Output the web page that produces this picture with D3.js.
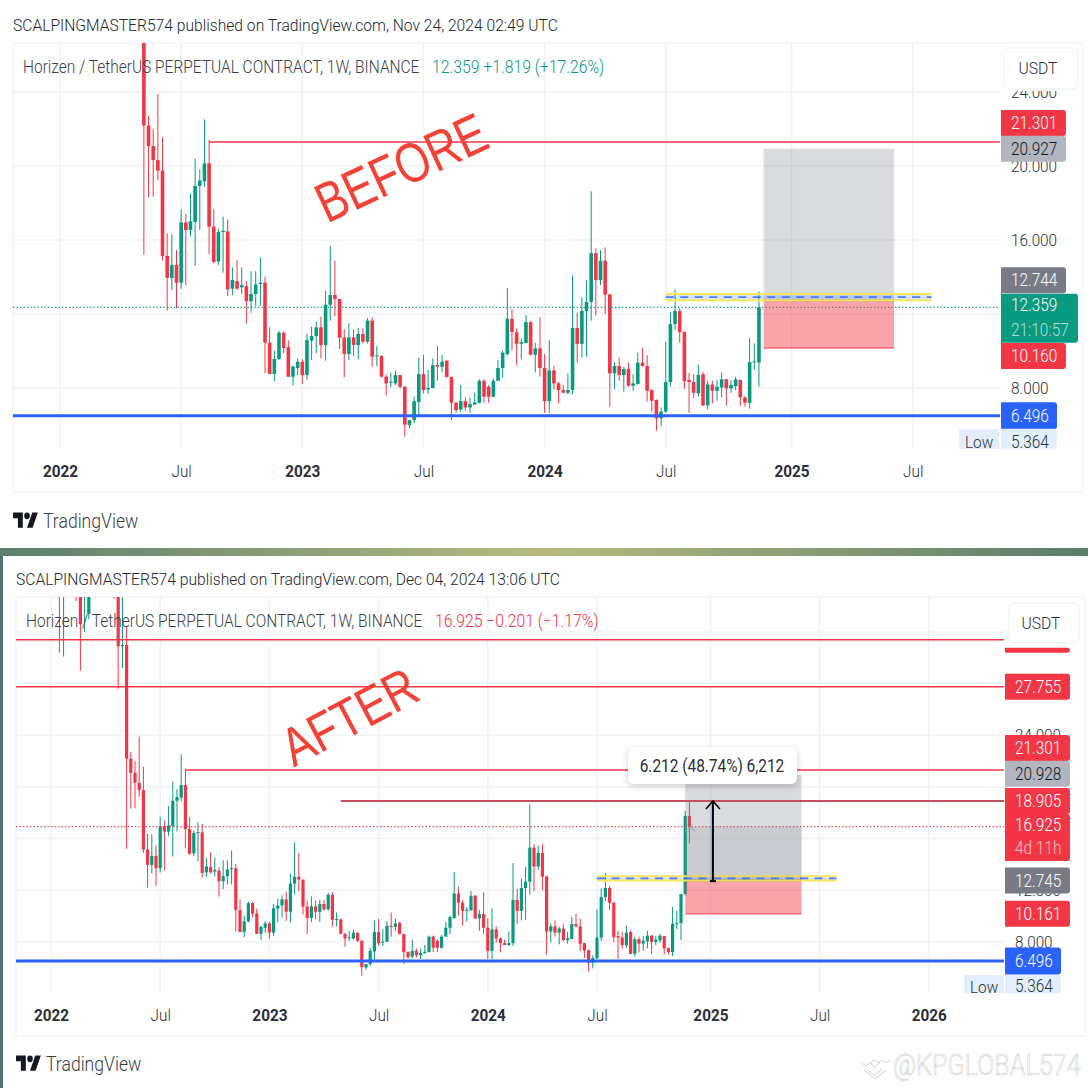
<!DOCTYPE html>
<html>
<head>
<meta charset="utf-8">
<script src="https://cdn.jsdelivr.net/npm/d3@7"></script>
<style>
  html, body { margin: 0; background: #fff; }
  svg { display: block; }
  text { font-family: Roboto, sans-serif; }
</style>
</head>
<body>
<svg id="chart" width="1088" height="1088"></svg>
<script>
// weekly candles shared by both snapshots, week 0 = first week of 2022
const opens = [
  46, 44, 43, 38, 41, 39, 38, 36, 35.2, 33.4,
  38, 40, 39, 41, 38, 37, 36, 30.9, 31, 22.18,
  21.08, 20.32, 19.75, 15.14, 13.95, 14.65, 13.69, 16.95, 16.54, 16.97,
  18.92, 19.17, 20.14, 16.72, 14.84, 16.43, 16.47, 13.37, 13.78, 13.44,
  13.51, 12.69, 13.08, 13.62, 13.69, 10.45, 8.76, 9.57, 10.99, 10.2,
  8.61, 9.08, 9.42, 8.7, 10.56, 10.81, 11.28, 10.32, 12.5, 13.03,
  12.81, 10.72, 9.84, 10.74, 10.32, 10.92, 10.5, 11.64, 9.73, 9.73,
  8.61, 8.29, 8.25, 8.7, 8.07, 6, 6.27, 7.25, 8.75, 7.92,
  8, 9.24, 9.15, 9.47, 8.59, 7.2, 6.84, 7.29, 6.95, 7.11,
  7.2, 8.39, 8.07, 7.53, 8.39, 9.08, 9.83, 11.74, 11.02, 10.39,
  10.43, 11.56, 9.8, 10.14, 9.08, 7.29, 8.95, 8.25, 7.89, 7.74,
  7.89, 11.24, 10.39, 12.16, 12.65, 15.29, 13.83, 14.88, 13.06, 8.79,
  9.19, 8.7, 9.02, 8.12, 8.21, 9.37, 9.19, 7.89, 7.35, 6.36,
  6.72, 8.32, 11.46, 12.16, 11.02, 8.43, 8.32, 7.71, 8.75, 7.06,
  8.19, 7.85, 8.03, 8.47, 7.98, 8.1, 8.43, 7.49, 7.2, 9.4,
];
const highs = [
  50, 47, 46, 44, 44, 42, 41, 39, 39, 41,
  42, 44, 44, 43, 40, 39, 38, 36, 32.4, 22.7,
  21.98, 23.89, 21.55, 16.36, 16.32, 15.46, 17.66, 17.41, 18.52, 20.4,
  19.82, 22.52, 21.41, 17.66, 16.61, 17.26, 17.12, 14.52, 14.92, 14.52,
  13.77, 14.31, 14.31, 15.06, 14.02, 11.28, 10.02, 11.1, 11.06, 10.56,
  9.24, 9.6, 9.55, 10.92, 11.32, 11.59, 11.86, 13.26, 15.68, 14.88,
  12.81, 11.17, 11.5, 11.17, 11.23, 11.23, 11.78, 11.82, 10.27, 9.78,
  8.7, 8.83, 8.93, 8.7, 8.11, 6.27, 7.53, 9.65, 9.78, 8.97,
  9.6, 10.27, 9.78, 9.51, 8.61, 7.26, 8.16, 7.47, 7.47, 7.74,
  8.47, 8.47, 8.16, 8.52, 9.51, 10.02, 13.4, 12.28, 11.22, 10.68,
  11.94, 11.62, 10.45, 11.82, 9.83, 10.59, 9.19, 8.32, 8.16, 8.79,
  14.09, 12.07, 12.9, 13.8, 18.63, 15.55, 15.46, 15.6, 13.08, 9.42,
  9.65, 9.15, 9.37, 8.75, 9.91, 10.16, 9.78, 7.92, 7.38, 6.95,
  10.5, 12.12, 13.33, 12.3, 11.06, 8.82, 8.75, 9.26, 8.88, 8.39,
  8.39, 8.43, 8.84, 8.5, 8.43, 8.61, 8.47, 7.56, 10.7, 10.41,
];
const lows = [
  42, 40, 30.4, 30.1, 36, 35.5, 34.4, 29, 32, 33,
  36, 37, 37, 36, 35.2, 34.6, 27.6, 29.2, 15.2, 18.31,
  18.34, 19.24, 14.88, 12.18, 13.3, 12.31, 13.37, 13.55, 16.18, 14.6,
  16.54, 18.88, 15.24, 14.74, 14.65, 14.23, 12.97, 13.01, 13.3, 13.06,
  11.5, 12.07, 12.43, 12.43, 8.79, 8.76, 8.36, 9.51, 9.87, 8.61,
  8.14, 8.7, 8.22, 8.43, 9.51, 9.87, 9.6, 9.48, 11.64, 11.89,
  10.11, 8.58, 9.51, 9.73, 9.55, 10.41, 10.41, 9.15, 9.19, 8.58,
  7.6, 8.04, 8.16, 7.98, 5.364, 5.82, 6.09, 6.45, 7.71, 7.67,
  7.98, 8.39, 8.84, 8.57, 6.27, 6.66, 6.7, 6.77, 6.66, 7.08,
  7.17, 7.2, 7.2, 7.49, 8.57, 8.57, 9.78, 10.05, 9.24, 9.56,
  10.41, 9.76, 8.84, 8.61, 6.66, 6.66, 7.92, 7.17, 7.74, 7.67,
  7.67, 9.37, 9.65, 9.69, 11.64, 11.91, 13.56, 11.99, 6.99, 7.94,
  8.39, 7.8, 8.07, 7.85, 8.19, 9.15, 7.26, 6.72, 5.69, 5.94,
  6.66, 8.07, 11.13, 10.45, 7.96, 6.66, 7.47, 7.53, 7.02, 6.84,
  7.17, 7.31, 7.49, 7.06, 7.74, 7.89, 7.02, 6.99, 6.88, 8.97,
];
const closes = [
  44, 43, 38, 41, 39, 38, 36, 32.6, 37, 38,
  40, 39, 41, 38, 37, 36, 30.9, 31, 22.18, 21.08,
  20.32, 19.75, 15.14, 13.95, 14.65, 13.69, 16.95, 16.54, 17.01, 18.92,
  19.21, 20.14, 16.72, 14.81, 16.43, 16.49, 13.33, 13.84, 13.37, 13.57,
  12.69, 13.08, 13.59, 13.69, 10.45, 8.76, 9.57, 10.99, 10.16, 8.61,
  9.15, 9.42, 8.7, 10.59, 10.81, 11.28, 10.32, 12.5, 13.03, 12.81,
  10.72, 9.84, 10.74, 10.32, 10.92, 10.5, 11.64, 9.69, 9.76, 8.61,
  8.25, 8.34, 8.7, 8.07, 6.02, 6.27, 7.29, 8.75, 7.89, 8,
  9.24, 9.15, 9.42, 8.59, 7.2, 6.81, 7.29, 6.95, 7.13, 7.22,
  8.39, 7.53, 7.53, 8.39, 9.08, 9.91, 11.74, 11.02, 10.39, 10.48,
  11.56, 9.8, 10.14, 9.08, 7.29, 8.95, 8.25, 7.89, 7.74, 7.89,
  11.24, 10.39, 12.16, 12.65, 15.29, 13.83, 14.88, 13.04, 8.79, 9.19,
  8.7, 9.02, 8.12, 8.25, 9.37, 9.19, 7.85, 7.31, 6.36, 6.72,
  8.32, 11.46, 12.16, 11.02, 8.37, 8.32, 7.74, 8.7, 7.06, 8.19,
  7.85, 8.07, 8.47, 7.98, 8.16, 8.47, 7.49, 7.2, 9.4, 9.44,
];
// last bars differ between the two snapshots: [open, high, low, close]
const barsBefore = [[9.38, 13.22, 8.07, 12.359]];
const barsAfter = [[9.44, 11.7, 8.13, 11.7], [11.7, 18.12, 11.6, 17.75], [17.75, 18.905, 15.62, 16.925]];

const timeTicks = [0, 26, 52, 78, 104, 130, 157, 183, 209];
const timeLabels = ['2022', 'Jul', '2023', 'Jul', '2024', 'Jul', '2025', 'Jul', '2026'];
const priceTicksBefore = [8, 12, 16, 20, 24];
const priceTicksAfter = [8, 12, 16, 20, 24, 28, 32];
// ticks whose text is not fully hidden behind a price tag
const priceLabelsBefore = [8, 16, 20, 24];
const priceLabelsAfter = [8, 12, 24];

const GREEN = '#089981';
const RED = '#f23645';
const BLUE = '#2962ff';
const GRID = '#f1f2f5';
const TEXT = '#2a2e39';
const NARROW = 0.9;

const svg = d3.select('#chart');
const defs = svg.append('defs');

function fit(sel, k = NARROW) {
  sel.each(function () {
    this.setAttribute('textLength', this.getComputedTextLength() * k);
    this.setAttribute('lengthAdjust', 'spacingAndGlyphs');
  });
  return sel;
}

function label(g, str, x, y, size, fill, extra) {
  const { anchor = 'start', weight = 300, k = NARROW } = extra || {};
  return fit(g.append('text')
    .attr('x', x)
    .attr('y', y)
    .attr('dy', '0.35em')
    .attr('text-anchor', anchor)
    .attr('font-size', size)
    .attr('font-weight', weight)
    .attr('fill', fill)
    .text(str), k);
}

function drawPane(opt) {
  const { id, left, right, top, bottom, outerRight, outerBottom, x, y, bars, priceTicks, priceLabels, tickCount, bodyWidth } = opt;
  const g = svg.append('g').attr('id', id);

  g.append('rect')
    .attr('x', left).attr('y', top)
    .attr('width', outerRight - left).attr('height', outerBottom - top)
    .attr('fill', '#fff')
    .attr('stroke', '#eef0f4');

  defs.append('clipPath').attr('id', `clip-${id}`).append('rect')
    .attr('x', left).attr('y', top)
    .attr('width', right - left).attr('height', bottom - top);

  const pane = g.append('g').attr('clip-path', `url(#clip-${id})`);

  // grid
  pane.selectAll('line.vgrid').data(timeTicks.slice(0, tickCount)).enter().append('line')
    .attr('x1', (d) => x(d)).attr('x2', (d) => x(d))
    .attr('y1', top).attr('y2', bottom)
    .attr('stroke', GRID).attr('stroke-width', 1.5);
  pane.selectAll('line.hgrid').data(priceTicks).enter().append('line')
    .attr('x1', left).attr('x2', right)
    .attr('y1', (d) => y(d)).attr('y2', (d) => y(d))
    .attr('stroke', GRID).attr('stroke-width', 1.5);

  // candles
  const color = (d) => (d.close >= d.open ? GREEN : RED);
  const candle = pane.selectAll('g.candle').data(bars).enter().append('g');
  candle.append('line')
    .attr('x1', (d) => x(d.week)).attr('x2', (d) => x(d.week))
    .attr('y1', (d) => y(d.high)).attr('y2', (d) => y(d.low))
    .attr('stroke', color).attr('stroke-width', 1);
  candle.append('rect')
    .attr('x', (d) => x(d.week) - bodyWidth / 2)
    .attr('width', bodyWidth)
    .attr('y', (d) => y(Math.max(d.open, d.close)))
    .attr('height', (d) => Math.max(1, Math.abs(y(d.open) - y(d.close))))
    .attr('fill', color);

  // price and time axes
  const yAxis = g.append('g')
    .attr('transform', `translate(${right},0)`)
    .call(d3.axisRight(y).tickValues(priceLabels).tickSize(0).tickPadding(11).tickFormat(d3.format('.3f')));
  yAxis.select('.domain').remove();
  yAxis.selectAll('text').attr('font-size', 17).attr('font-family', 'Roboto').attr('font-weight', 300).attr('fill', TEXT);
  fit(yAxis.selectAll('text'));

  const xAxis = g.append('g')
    .attr('transform', `translate(0,${outerBottom - 20.5})`)
    .call(d3.axisBottom(x)
      .tickValues(timeTicks.slice(0, tickCount))
      .tickSize(0)
      .tickFormat((d) => timeLabels[timeTicks.indexOf(d)]));
  xAxis.select('.domain').remove();
  xAxis.selectAll('text')
    .attr('font-size', 17)
    .attr('font-family', 'Roboto')
    .attr('fill', TEXT)
    .attr('dy', '0.35em')
    .attr('y', 0)
    .attr('font-weight', (d) => (timeLabels[timeTicks.indexOf(d)] === 'Jul' ? 300 : 700));
  fit(xAxis.selectAll('text'));

  return { g, pane };
}

function hLine(pane, x, y, price, from, to, stroke, width) {
  pane.append('line')
    .attr('x1', x(from)).attr('x2', x(to))
    .attr('y1', y(price)).attr('y2', y(price))
    .attr('stroke', stroke).attr('stroke-width', width);
}

function zone(pane, x, y, from, to, hi, lo, fill, op) {
  pane.append('rect')
    .attr('x', x(from)).attr('width', x(to) - x(from))
    .attr('y', y(hi)).attr('height', y(lo) - y(hi))
    .attr('fill', fill).attr('fill-opacity', op);
}

// long position tool plus the yellow entry band
function drawings(pane, x, y, levels) {
  const { target, entry, stop, from, to, bandFrom, bandTo, bandHi, bandLo, bandMid } = levels;
  zone(pane, x, y, from, to, target, entry, '#787b86', 0.27);
  zone(pane, x, y, from, to, entry, stop, RED, 0.45);
  hLine(pane, x, y, entry, from, to, '#787b86', 2);
  hLine(pane, x, y, stop, from, to, RED, 1);
  pane.append('rect')
    .attr('x', x(bandFrom)).attr('width', x(bandTo) - x(bandFrom))
    .attr('y', y(bandHi)).attr('height', y(bandLo) - y(bandHi))
    .attr('fill', BLUE).attr('fill-opacity', 0.18);
  hLine(pane, x, y, bandHi, bandFrom, bandTo, '#fbe75a', 2);
  hLine(pane, x, y, bandLo, bandFrom, bandTo, '#fbe75a', 2);
  pane.append('line')
    .attr('x1', x(bandFrom)).attr('x2', x(bandTo))
    .attr('y1', y(bandMid)).attr('y2', y(bandMid))
    .attr('stroke', BLUE).attr('stroke-width', 1.6)
    .attr('stroke-opacity', 0.8)
    .attr('stroke-dasharray', '8 6.5');
}

function priceTag(g, y, paneRight, opt) {
  const { price, lines = [], fill, color = '#fff', w = 65, h = 26, dy = 0, textDy = 0 } = opt;
  const cy = y(price) + dy;
  g.append('path')
    .attr('d', `M${paneRight + 1},${cy - h / 2}h${w - 3}a3,3 0 0 1 3,3v${h - 6}a3,3 0 0 1 -3,3h${-(w - 3)}z`)
    .attr('fill', fill);
  lines.forEach((str, n) => {
    const ly = lines.length > 1 ? cy - h / 4 + (n * h) / 2 - 1 : cy;
    label(g, str, paneRight + 11, ly + textDy, 17.5, n ? 'rgba(255,255,255,0.7)' : color, { k: 0.88 });
  });
}

function usdtButton(g, x, yTop, w, h) {
  g.append('rect')
    .attr('x', x - 2).attr('y', yTop - 2).attr('width', w + 4).attr('height', h + 4)
    .attr('fill', '#fff');
  g.append('rect')
    .attr('x', x).attr('y', yTop).attr('width', w).attr('height', h)
    .attr('rx', 6)
    .attr('fill', '#fff').attr('stroke', '#eceef2');
  label(g, 'USDT', x + w / 2 - 3, yTop + h / 2, 17, TEXT, { anchor: 'middle', k: 0.92 });
}

function logo(cx, cy) {
  const g = svg.append('g').attr('transform', `translate(${cx},${cy}) scale(0.7,0.85)`);
  g.append('path').attr('d', 'M14 22H7V11H0V4h14v18zM28 22h-8l7.5-18h8L28 22z').attr('fill', '#131722');
  g.append('circle').attr('cx', 20).attr('cy', 8).attr('r', 4).attr('fill', '#131722');
}

function rotated(str, cx, cy, angle, size, width) {
  svg.append('text')
    .attr('transform', `translate(${cx},${cy}) rotate(${angle})`)
    .attr('text-anchor', 'middle')
    .attr('dy', '0.36em')
    .attr('font-size', size)
    .style('font-family', '"Liberation Sans", sans-serif')
    .attr('textLength', width)
    .attr('lengthAdjust', 'spacingAndGlyphs')
    .attr('fill', '#f44336')
    .text(str);
}

const toBars = (extra) => opens.map((o, i) => ({ week: i, open: o, high: highs[i], low: lows[i], close: closes[i] }))
  .concat(extra.map((b, n) => ({ week: opens.length + n, open: b[0], high: b[1], low: b[2], close: b[3] })));

// separator band and left strip of the collage
const bandGrad = defs.append('linearGradient').attr('id', 'band');
[['0%', '#5c7f70'], ['50%', '#b6bb7d'], ['100%', '#5a7c6c']].forEach((s) => {
  bandGrad.append('stop').attr('offset', s[0]).attr('stop-color', s[1]);
});
svg.append('rect').attr('x', 0).attr('y', 548).attr('width', 1088).attr('height', 8).attr('fill', 'url(#band)');
svg.append('rect').attr('x', 0).attr('y', 556).attr('width', 3).attr('height', 532).attr('fill', '#4f7470');

// ---- BEFORE ----
const x1 = d3.scaleLinear().domain([0, 104]).range([60, 544.6]);
const y1 = d3.scaleLinear().domain([8, 20]).range([388, 166]);
label(svg, 'SCALPINGMASTER574 published on TradingView.com, Nov 24, 2024 02:49 UTC', 13, 25, 17, '#24272f', { k: 0.92 });
const before = drawPane({
  id: 'before', left: 13, right: 1000, top: 43, bottom: 449, outerRight: 1083, outerBottom: 492,
  x: x1, y: y1, bars: toBars(barsBefore), priceTicks: priceTicksBefore, priceLabels: priceLabelsBefore, tickCount: 8, bodyWidth: 3.6,
});
hLine(before.pane, x1, y1, 21.301, 32, 230, RED, 1.5);
before.pane.append('line')
  .attr('x1', 13).attr('x2', 1000)
  .attr('y1', y1(12.359)).attr('y2', y1(12.359))
  .attr('stroke', GREEN).attr('stroke-width', 1.3).attr('stroke-dasharray', '1.3 2.2');
drawings(before.pane, x1, y1, {
  target: 20.927, entry: 12.744, stop: 10.16, from: 151, to: 179,
  bandFrom: 130, bandTo: 187, bandHi: 13.08, bandLo: 12.74, bandMid: 12.91,
});
hLine(before.pane, x1, y1, 6.496, -20, 230, BLUE, 3);
label(before.g, 'Horizen / TetherUS PERPETUAL CONTRACT, 1W, BINANCE', 23, 67, 17.5, '#3a3e48', { k: 0.885 });
label(before.g, '12.359  +1.819 (+17.26%)', 432, 67, 17.5, GREEN);
usdtButton(before.g, 1004, 48, 74, 41);
priceTag(before.g, y1, 1000, { price: 21.301, lines: ['21.301'], fill: RED, dy: -19 });
priceTag(before.g, y1, 1000, { price: 20.927, lines: ['20.927'], fill: '#b2b5be', color: '#131722' });
priceTag(before.g, y1, 1000, { price: 12.744, lines: ['12.744'], fill: '#787b86', dy: -20 });
priceTag(before.g, y1, 1000, { price: 12.359, lines: ['12.359', '21:10:57'], fill: GREEN, w: 77, h: 49, dy: 11 });
priceTag(before.g, y1, 1000, { price: 10.16, lines: ['10.160'], fill: RED, dy: 8 });
priceTag(before.g, y1, 1000, { price: 6.496, lines: ['6.496'], fill: BLUE, w: 56, h: 27 });
priceTag(before.g, y1, 1000, { price: 5.364, lines: ['5.364'], fill: '#e3effd', color: TEXT, w: 56, h: 20, dy: 2, textDy: 3 });
before.g.append('rect').attr('x', 959).attr('y', 429).attr('width', 40).attr('height', 20).attr('fill', '#e3effd');
label(before.g, 'Low', 965, 442, 17, TEXT);
logo(13, 509);
label(svg, 'TradingView', 43, 521, 20, '#3a3e48', { k: 0.88 });
rotated('BEFORE', 401, 167, -25, 56, 182);

// ---- AFTER ----
const x2 = d3.scaleLinear().domain([0, 104]).range([51, 487.8]);
const y2 = d3.scaleLinear().domain([8, 32]).range([941.7, 632]);
label(svg, 'SCALPINGMASTER574 published on TradingView.com, Dec 04, 2024 13:06 UTC', 16, 579, 17, '#24272f', { k: 0.92 });
const after = drawPane({
  id: 'after', left: 16, right: 1004, top: 597, bottom: 993, outerRight: 1085, outerBottom: 1036,
  x: x2, y: y2, bars: toBars(barsAfter), priceTicks: priceTicksAfter, priceLabels: priceLabelsAfter, tickCount: 9, bodyWidth: 3.2,
});
hLine(after.pane, x2, y2, 31.39, -20, 240, RED, 1.5);
hLine(after.pane, x2, y2, 27.755, -20, 240, RED, 1.5);
hLine(after.pane, x2, y2, 21.301, 32, 240, RED, 1.5);
after.pane.append('line')
  .attr('x1', 16).attr('x2', 1004)
  .attr('y1', y2(16.925)).attr('y2', y2(16.925))
  .attr('stroke', RED).attr('stroke-width', 1.3).attr('stroke-dasharray', '1.3 2.2');
drawings(after.pane, x2, y2, {
  target: 20.928, entry: 12.745, stop: 10.161, from: 151, to: 178.7,
  bandFrom: 130, bandTo: 187, bandHi: 13.08, bandLo: 12.74, bandMid: 12.91,
});
zone(after.pane, x2, y2, 151, 178.7, 16.925, 12.745, '#787b86', 0.16);
zone(after.pane, x2, y2, 157, 157.6, 18.905, 12.693, BLUE, 0.2);
hLine(after.pane, x2, y2, 18.905, 69, 240, '#c4505f', 2);
hLine(after.pane, x2, y2, 6.496, -20, 240, BLUE, 3);

// pencil cursor left on the last bar
after.pane.append('path')
  .attr('d', `M${x2(152.2)},${y2(16.95)}l5,5.5M${x2(151)},${y2(16.6)}l1.5,-2`)
  .attr('stroke', '#9598a1').attr('stroke-width', 1).attr('fill', 'none');

// measure arrow
const arrowX = x2(157.6);
const arrow = after.pane.append('g').attr('stroke', '#000').attr('fill', 'none');
arrow.append('line')
  .attr('x1', arrowX).attr('x2', arrowX)
  .attr('y1', y2(12.693)).attr('y2', y2(18.905))
  .attr('stroke-width', 2);
arrow.append('path')
  .attr('d', `M${arrowX - 7},${y2(18.905) + 8}L${arrowX},${y2(18.905)}L${arrowX + 7},${y2(18.905) + 8}`)
  .attr('stroke-width', 1.5);
arrow.append('line')
  .attr('x1', arrowX - 3).attr('x2', arrowX + 3)
  .attr('y1', y2(12.693)).attr('y2', y2(12.693))
  .attr('stroke-width', 2);
after.g.append('rect')
  .attr('x', 628).attr('y', 747).attr('width', 169).attr('height', 37).attr('rx', 6)
  .attr('fill', '#fff')
  .style('filter', 'drop-shadow(0 2px 3px rgba(0,0,0,0.2))');
label(after.g, '6.212 (48.74%) 6,212', 712, 766, 17.5, TEXT, { anchor: 'middle', k: 0.88, weight: 400 });

label(after.g, 'Horizen / TetherUS PERPETUAL CONTRACT, 1W, BINANCE', 26, 621, 17.5, '#3a3e48', { k: 0.885 });
label(after.g, '16.925  −0.201 (−1.17%)', 435, 621, 17.5, RED);
usdtButton(after.g, 1009, 603, 70, 40);
priceTag(after.g, y2, 1004, { price: 31.39, fill: RED, h: 5, dy: 10.5 });
priceTag(after.g, y2, 1004, { price: 27.755, lines: ['27.755'], fill: RED });
priceTag(after.g, y2, 1004, { price: 21.301, lines: ['21.301'], fill: RED, dy: -22 });
priceTag(after.g, y2, 1004, { price: 20.928, lines: ['20.928'], fill: '#b2b5be', color: '#131722', dy: -1 });
priceTag(after.g, y2, 1004, { price: 18.905, lines: ['18.905'], fill: RED });
priceTag(after.g, y2, 1004, { price: 16.925, lines: ['16.925', '4d 11h'], fill: RED, h: 47, dy: 11 });
priceTag(after.g, y2, 1004, { price: 12.745, lines: ['12.745'], fill: '#787b86' });
priceTag(after.g, y2, 1004, { price: 10.161, lines: ['10.161'], fill: RED });
priceTag(after.g, y2, 1004, { price: 6.496, lines: ['6.496'], fill: BLUE, w: 56, h: 27 });
priceTag(after.g, y2, 1004, { price: 5.364, lines: ['5.364'], fill: '#e3effd', color: TEXT, w: 56, h: 18, dy: 8.5, textDy: 2 });
after.g.append('rect').attr('x', 964).attr('y', 975).attr('width', 40).attr('height', 18).attr('fill', '#e3effd');
label(after.g, 'Low', 970, 987, 17, TEXT);
logo(16, 1052);
label(svg, 'TradingView', 46, 1064, 20, '#3a3e48', { k: 0.88 });
rotated('AFTER', 349, 716, -28, 54, 146);

// watermark
const mark = svg.append('g').attr('fill', 'none').attr('stroke', '#d2d2d2').attr('stroke-width', 1);
['M862,1063l4,3l4,-3l4,-3l4,3l4,-3l4,3l4,-3', 'M866,1069l8,6l8,-6', 'M870,1063l5,4l5,-4', 'M864,1070l11,9l11,-9'].forEach((d) => {
  mark.append('path').attr('d', d);
});
svg.append('text')
  .attr('transform', 'translate(893,1075) scale(0.87,1)')
  .attr('font-size', 29)
  .attr('font-weight', 300)
  .attr('fill', '#fff')
  .attr('stroke', '#cfcfcf')
  .attr('stroke-width', 0.6)
  .text('@KPGLOBAL574');
</script>
</body>
</html>
